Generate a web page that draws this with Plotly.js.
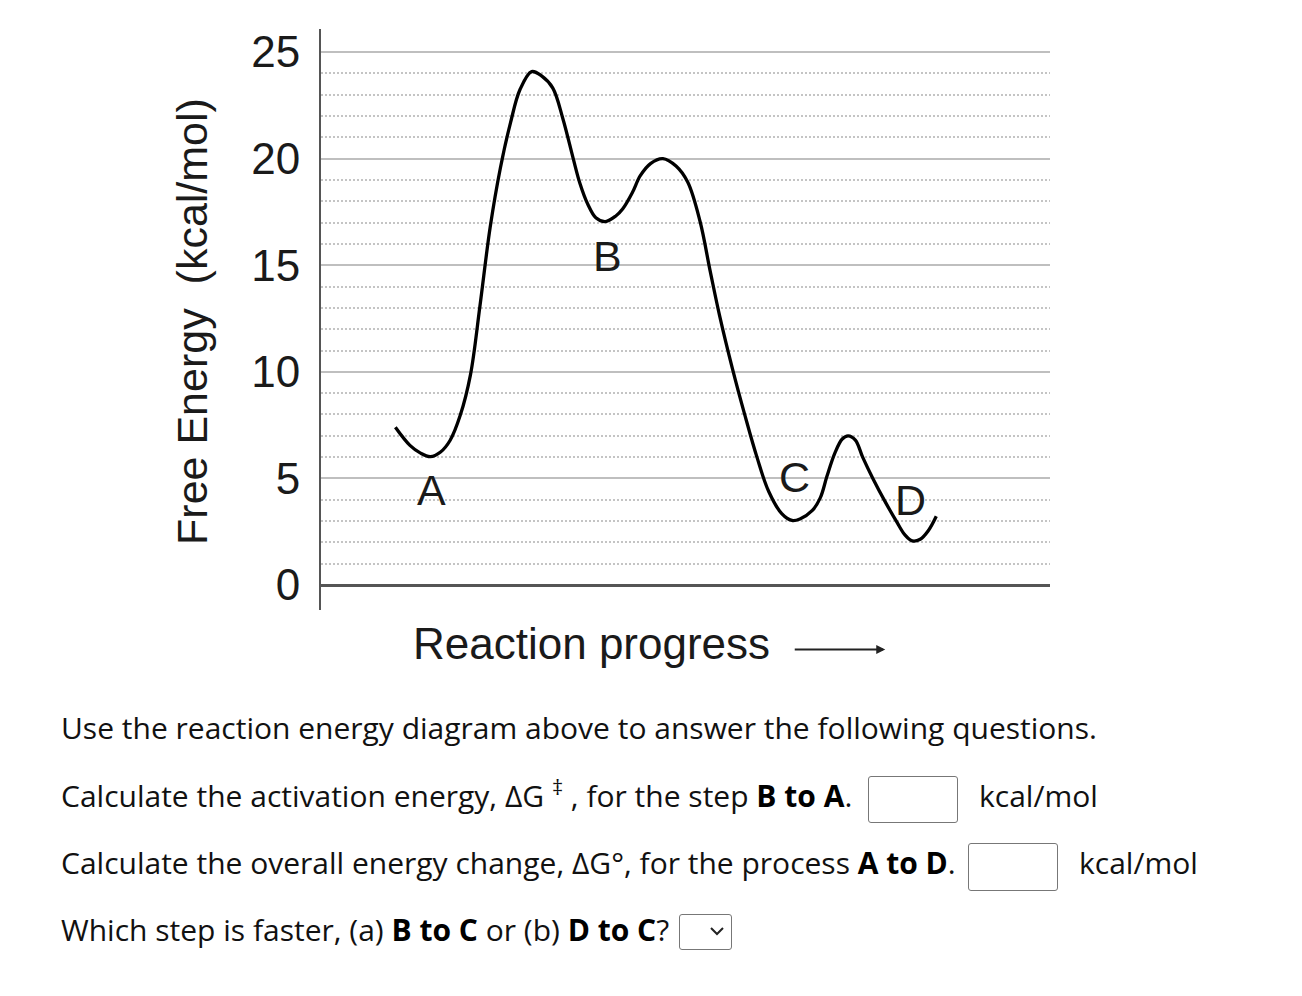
<!DOCTYPE html>
<html>
<head>
<meta charset="utf-8">
<script src="https://cdn.plot.ly/plotly-3.0.1.min.js"></script>
<style>
  html, body { margin: 0; padding: 0; background: #ffffff; }
  body { width: 1302px; height: 996px; position: relative; overflow: hidden; }
  #chart { position: absolute; left: 0; top: 0; width: 1302px; height: 700px; }
  .q { position: absolute; font-family: "Open Sans", sans-serif; font-size: 30px; line-height: 40px; color: #111; white-space: nowrap; }
  .q b { font-weight: 700; color: #000; }
  .q sup { font-size: 22px; vertical-align: 0; position: relative; top: -12px; }
  .box { position: absolute; border: 1.5px solid #777; border-radius: 3px; background: #fff; box-sizing: border-box; }
</style>
</head>
<body>
<div id="chart"></div>

<div class="q" style="left:61px; top:708px;">Use the reaction energy diagram above to answer the following questions.</div>

<div class="q" style="left:61px; top:776px;">Calculate the activation energy, ΔG <sup>‡</sup> , for the step <b>B to A</b>.</div>
<div class="box" style="left:868px; top:776px; width:90px; height:47px;"></div>
<div class="q" style="left:979px; top:776px;">kcal/mol</div>

<div class="q" style="left:61px; top:843px;">Calculate the overall energy change, ΔG°, for the process <b>A to D</b>.</div>
<div class="box" style="left:968px; top:843px; width:90px; height:48px;"></div>
<div class="q" style="left:1079px; top:843px;">kcal/mol</div>

<div class="q" style="left:61px; top:910px;">Which step is faster, (a) <b>B to C</b> or (b) <b>D to C</b>?</div>
<div class="box" style="left:679px; top:914px; width:53px; height:36px;">
  <svg width="50" height="33" style="position:absolute;left:0;top:0;">
    <polyline points="31,13 37,19 43,13" fill="none" stroke="#222" stroke-width="2"/>
  </svg>
</div>

<script>
// Reaction progress (arbitrary units, 0-100 across the plot) and free energy (kcal/mol)
const progress = [10.2, 12.2, 13.6, 15.0, 16.4, 17.7, 19.1, 20.5, 21.8, 23.2, 24.6, 26.0, 27.3, 28.9, 30.3, 31.8, 33.2, 34.6, 35.5, 36.6, 37.7, 39.0, 40.4, 41.4, 42.7, 43.8, 45.2, 46.9, 48.7, 50.3, 52.0, 53.4, 54.7, 56.4, 58.2, 59.8, 61.4, 63.2, 64.6, 65.7, 67.4, 68.5, 69.4, 70.5, 71.5, 72.3, 73.3, 74.3, 75.7, 77.4, 79.0, 80.1, 81.1, 82.2, 83.3, 84.4];
const energy   = [7.4, 6.55, 6.2, 6.02, 6.24, 6.78, 7.96, 9.86, 13.08, 16.77, 19.55, 21.69, 23.24, 24.08, 23.87, 23.31, 21.85, 20.0, 18.86, 17.86, 17.23, 17.05, 17.3, 17.65, 18.4, 19.2, 19.77, 20.0, 19.65, 18.9, 17.05, 14.7, 12.6, 10.2, 7.9, 6.0, 4.4, 3.35, 3.03, 3.1, 3.5, 4.1, 5.1, 6.2, 6.85, 7.0, 6.8, 6.0, 5.0, 3.9, 2.95, 2.35, 2.07, 2.15, 2.55, 3.23];

// State labels and where they sit
const stateLabels = ["A", "B", "C", "D"];
const labelX = [15.2, 39.3, 64.9, 80.9];
const labelY = [4.45, 15.45, 5.05, 3.98];

const yTickVals = [0, 5, 10, 15, 20, 25];
const yTickText = ["0", "5", "10", "15", "20", "25"];
const yMinorVals = [1,2,3,4,6,7,8,9,11,12,13,14,16,17,18,19,21,22,23,24];

const axisTitleY = "Free Energy  (kcal/mol)";
const axisTitleX = "Reaction progress";

const chartFont = "Liberation Sans, Arial, Helvetica, sans-serif";

const trace = {
  x: progress,
  y: energy,
  type: "scatter",
  mode: "lines",
  line: { color: "#000000", width: 3.3, shape: "spline", smoothing: 1 },
  hoverinfo: "skip"
};

const annotations = stateLabels.map((t, i) => ({
  x: labelX[i], y: labelY[i], xref: "x", yref: "y",
  text: t, showarrow: false,
  font: { family: chartFont, size: 43, color: "#1a1a1a" },
  xanchor: "center", yanchor: "middle"
}));

annotations.push({
  x: 0.371, y: -0.058, xref: "paper", yref: "paper",
  text: axisTitleX, showarrow: false,
  font: { family: chartFont, size: 44, color: "#1a1a1a" },
  xanchor: "center", yanchor: "middle"
});
annotations.push({
  x: 0.774, y: -0.068, xref: "paper", yref: "paper",
  text: "", showarrow: true, ax: -92, ay: 0,
  arrowhead: 2, arrowsize: 1, arrowwidth: 1.8, arrowcolor: "#222"
});
annotations.push({
  x: -0.176, y: 0.497, xref: "paper", yref: "paper",
  text: axisTitleY, showarrow: false, textangle: -90,
  font: { family: chartFont, size: 43, color: "#1a1a1a" },
  xanchor: "center", yanchor: "middle"
});

const layout = {
  width: 1302,
  height: 700,
  margin: { l: 321, r: 252, t: 29, b: 90 },
  paper_bgcolor: "rgba(0,0,0,0)",
  plot_bgcolor: "rgba(0,0,0,0)",
  showlegend: false,
  xaxis: {
    range: [0, 100],
    showgrid: false, zeroline: false, showline: false,
    showticklabels: false, ticks: ""
  },
  yaxis: {
    range: [-1.17, 26.08],
    tickmode: "array",
    tickvals: yTickVals,
    ticktext: yTickText,
    ticks: "",
    ticklabelstandoff: 10,
    tickfont: { family: chartFont, size: 44, color: "#1a1a1a" },
    showgrid: true, gridcolor: "#bfbfbf", gridwidth: 2,
    zeroline: true, zerolinecolor: "#555555", zerolinewidth: 3,
    showline: true, linecolor: "#555555", linewidth: 2,
    minor: {
      tickmode: "array",
      tickvals: yMinorVals,
      showgrid: true, gridcolor: "#c4c4c4", gridwidth: 2, griddash: "2px,2px",
      ticks: ""
    }
  },
  annotations: annotations
};

Plotly.newPlot("chart", [trace], layout, { displayModeBar: false, staticPlot: true });
</script>
</body>
</html>
